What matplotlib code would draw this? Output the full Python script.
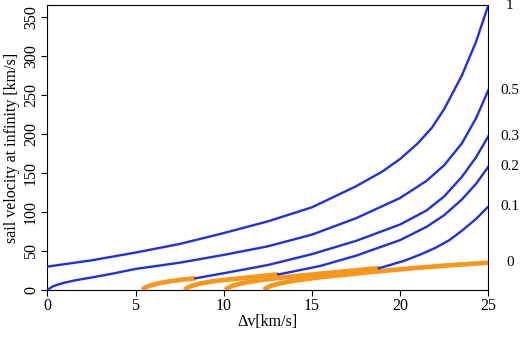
import matplotlib
matplotlib.use("Agg")
import matplotlib.pyplot as plt

plt.rcParams["font.family"] = ["Liberation Serif", "DejaVu Serif"]

# blue curves, labelled by the value written at the right edge
blue_labels = ["1", "0.5", "0.3", "0.2", "0.1"]
blue_x = [
    [0, 2.5, 5, 7.5, 10, 12.5, 15, 17.5, 19, 20, 21, 21.8, 22.5, 23.5, 24.3, 25],
    [0, 0.3, 0.6, 1, 1.6, 2.5, 3.7, 5, 7.5, 10, 12.5, 15, 17.5, 20, 21.5, 22.5, 23.5, 24.3, 25],
    [8.4, 10, 12.5, 15, 17.5, 20, 21.5, 22.5, 23.5, 24.3, 25],
    [13.1, 14, 15.5, 17.5, 20, 21.5, 22.5, 23.5, 24.3, 25],
    [18.8, 19.5, 20.3, 21.2, 22, 22.8, 23.5, 24.3, 25],
]
blue_v = [
    [30, 38, 48, 59, 73, 88, 106, 133, 152, 168, 188, 208, 232, 275, 318, 365],
    [0, 4.5, 7, 9.5, 12.5, 16, 21, 27, 35, 45, 56, 71, 92, 118, 140, 160, 188, 220, 256],
    [15, 21.5, 32, 46, 63, 84, 102, 120, 145, 170, 197],
    [20, 24, 31, 44, 64, 81, 96, 116, 136, 158],
    [28, 32.5, 38, 46, 54, 64, 76, 91, 107],
]

# orange curves (lower branches)
orange_x = [
    [5.4, 5.5, 5.8, 6.3, 6.8, 7.3, 7.8, 8.4],
    [7.8, 7.9, 8.2, 8.7, 9.5, 10.5, 11.5, 12.3, 13.1],
    [10.1, 10.2, 10.5, 11.0, 12, 13.5, 15, 16.5, 18, 18.8],
    [12.3, 12.4, 12.7, 13.2, 14, 15.5, 17, 19, 21, 23, 25],
]
orange_v = [
    [0, 2.5, 5.5, 8.5, 10.7, 12.3, 13.7, 15],
    [0, 2.5, 5.5, 8.5, 11.5, 14, 16.3, 18.2, 20],
    [0, 2.5, 5.5, 8.5, 12.5, 16.5, 19.8, 23, 26.3, 28],
    [0, 2.5, 5.5, 8.5, 12, 16.5, 20, 24.5, 28.5, 32, 35],
]
orange_label = "0"

blue = "#1f30dc"
orange = "#f7981d"
fs = 11.5

fig = plt.figure(figsize=(5.2, 3.38), dpi=100)
ax = fig.add_axes([0.091, 0.142, 0.848, 0.843])

for xs, vs in zip(orange_x, orange_v):
    ax.plot(xs, vs, color=orange, lw=3.4, solid_capstyle="butt", zorder=2)
for xs, vs in zip(blue_x, blue_v):
    ax.plot(xs, vs, color=blue, lw=1.7, zorder=3)

# curve labels outside the right edge, centred about 22 px right of the frame
right_labels = blue_labels + [orange_label]
right_ends = [vs[-1] for vs in blue_v] + [orange_v[-1][-1]]
for lab, end in zip(right_labels, right_ends):
    ax.annotate(lab, xy=(1, end), xycoords=("axes fraction", "data"),
                xytext=(15.5, 0), textcoords="offset points",
                ha="center", va="center", fontsize=11, annotation_clip=False)

ax.set_xlim(0, 25)
ax.set_ylim(0, 365.4)
ax.set_xticks([0, 5, 10, 15, 20, 25])
ax.set_yticks([0, 50, 100, 150, 200, 250, 300, 350])
ax.tick_params(direction="out", length=4, labelsize=fs, width=0.8, pad=2)
for lbl in ax.get_yticklabels():
    lbl.set_rotation(90)
    lbl.set_va("center")
ax.set_xlabel("Δv[km/s]", fontsize=fs, labelpad=0)
ax.set_ylabel("sail velocity at infinity [km/s]", fontsize=fs, labelpad=2)
for sp in ax.spines.values():
    sp.set_linewidth(0.8)

fig.savefig("out.png", dpi=100)
